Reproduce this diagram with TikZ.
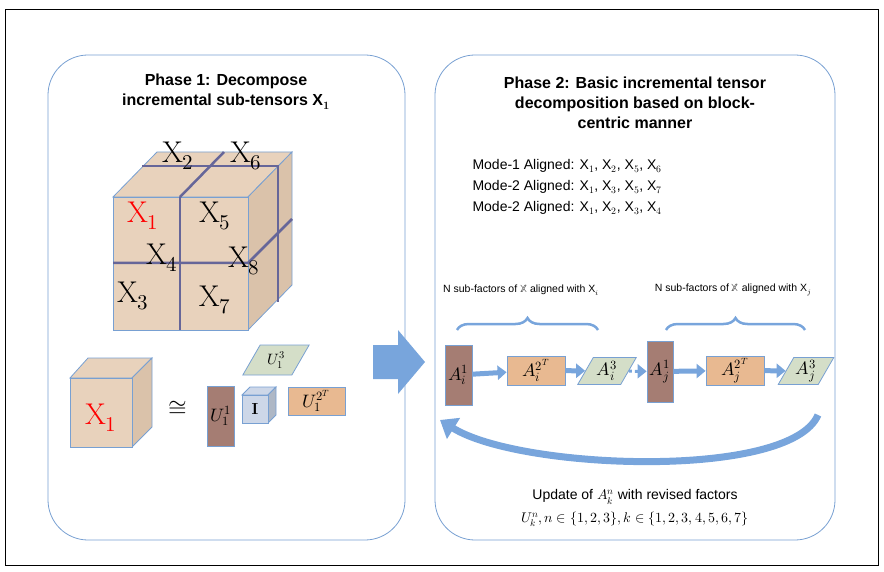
\documentclass[tikz,border=0pt]{standalone}
\usepackage{amsmath,amssymb}
\usepackage{unicode-math}
\setmainfont{Latin Modern Roman}
\setmathfont{Latin Modern Math}
\setsansfont{Liberation Sans}
\usetikzlibrary{positioning,arrows.meta,shapes.geometric,decorations.pathreplacing}
\definecolor{tanface}{RGB}{232,210,188}
\definecolor{tanside}{RGB}{218,194,170}
\definecolor{panelblue}{RGB}{120,160,210}
\definecolor{flowblue}{RGB}{120,165,220}
\definecolor{brownbox}{RGB}{165,125,115}
\definecolor{orangebox}{RGB}{232,185,145}
\definecolor{greenbox}{RGB}{212,222,200}
\definecolor{idbox}{RGB}{205,215,232}
\tikzset{
  panel/.style={draw=panelblue,rounded corners=40pt,line width=0.8pt},
  title/.style={font=\sffamily\bfseries\fontsize{16}{20}\selectfont,align=center},
  face/.style={draw=panelblue,line width=0.8pt},
  split/.style={draw=gray!80!blue,line width=2.5pt},
  sub/.style={font=\fontsize{30}{32}\selectfont},
  fbox/.style={draw=panelblue,line width=0.8pt,inner sep=0pt,font=\fontsize{18}{20}\selectfont},
  para/.style={trapezium,trapezium left angle=60,trapezium right angle=120,draw=panelblue,fill=greenbox,
    line width=0.8pt,inner sep=0pt,minimum height=27pt,font=\fontsize{18}{20}\selectfont},
  flow/.style={draw=flowblue,line width=5pt,-{Triangle[length=9pt,width=14pt]}},
  brace/.style={draw=flowblue,line width=2.5pt,decorate,decoration={brace,amplitude=12pt}},
  small/.style={font=\sffamily\fontsize{10.5}{12}\selectfont},
  plain/.style={font=\sffamily\fontsize{14}{16}\selectfont,anchor=west}
}
\begin{document}
\begin{tikzpicture}[x=1pt,y=-1pt]
  \useasboundingbox (0,0) rectangle (884,572);
  \draw[line width=0.8pt] (5,9) rectangle (878,565);
  % panels
  \draw[panel] (48,55) rectangle (405,540);
  \draw[panel] (435,55) rectangle (835,540);
  \node[title] (t1) at (226,92) {Phase 1: Decompose\\incremental sub-tensors X$_{\mathbf 1}$};
  \node[title] (t2) at (635,103) {Phase 2: Basic incremental tensor\\decomposition based on block-\\centric manner};

  % big cube
  \fill[tanface,face] (113,197) -- (157,152) -- (292,152) -- (248,197) -- cycle;
  \fill[tanside,face] (248,197) -- (292,152) -- (292,285) -- (248,330) -- cycle;
  \fill[tanface,face] (113,197) rectangle (248,330);
  \draw[split] (180,197) -- (180,330);
  \draw[split] (113,263) -- (248,263) -- (292,219);
  \draw[split] (180,197) -- (224,152);
  \draw[split] (142,166) -- (278,166) -- (278,302);
  \node[sub] (x2) at (178,156) {X$_2$};
  \node[sub] (x6) at (246,156) {X$_6$};
  \node[sub,red] (x1) at (143,216) {X$_1$};
  \node[sub] (x5) at (215,216) {X$_5$};
  \node[sub] (x4) at (162,258) {X$_4$};
  \node[sub] (x8) at (244,261) {X$_8$};
  \node[sub] (x3) at (133,296) {X$_3$};
  \node[sub] (x7) at (215,300) {X$_7$};

  % small cube
  \fill[tanface,face] (70,378) -- (88,358) -- (152,358) -- (132,378) -- cycle;
  \fill[tanside,face] (132,378) -- (152,358) -- (152,427) -- (132,447) -- cycle;
  \fill[tanface,face] (70,378) rectangle (132,447);
  \node[sub,red] (sx1) at (101,418) {X$_1$};
  \node[font=\fontsize{24}{26}\selectfont] (cong) at (178,408) {$\cong$};
  \node[fbox,fill=brownbox,minimum width=27pt,minimum height=60pt] (u11) at (220.5,416) {$U_1^1$};
  \fill[idbox,face] (242,395) -- (250,387) -- (276,387) -- (268,395) -- cycle;
  \fill[idbox!85!black,face] (268,395) -- (276,387) -- (276,415) -- (268,423) -- cycle;
  \fill[idbox,face] (242,395) rectangle (268,423);
  \node[font=\fontsize{16}{18}\selectfont] (id) at (255,409) {$\mathbf{I}$};
  \node[para,minimum height=30pt,minimum width=34pt,font=\fontsize{15}{16}\selectfont] (u13) at (276,360) {$U_1^3$};
  \node[fbox,fill=orangebox,minimum width=57pt,minimum height=28pt] (u12) at (316.5,401) {$U_1^{2^T}$};

  % transfer arrow
  \fill[flowblue] (373,345) -- (398,345) -- (398,330) -- (425,362) -- (398,394) -- (398,379) -- (373,379) -- cycle;

  % mode lines
  \node[plain] (m1) at (469,166) {Mode-1 Aligned: X$_1$, X$_2$, X$_5$, X$_6$};
  \node[plain] (m2) at (469,187) {Mode-2 Aligned: X$_1$, X$_3$, X$_5$, X$_7$};
  \node[plain] (m3) at (469,208) {Mode-2 Aligned: X$_1$, X$_2$, X$_3$, X$_4$};

  % sub-factor chain
  \node[small] (li) at (521,290) {N sub-factors of $\mathbb{X}$ aligned with X$_i$};
  \node[small] (lj) at (733,290) {N sub-factors of $\mathbb{X}$ aligned with X$_j$};
  \draw[brace] (457,330) -- (598,330);
  \draw[brace] (666,330) -- (805,330);
  \node[fbox,fill=brownbox,minimum width=27pt,minimum height=60pt] (ai1) at (458.5,375) {$A_i^1$};
  \node[fbox,fill=orangebox,minimum width=58pt,minimum height=29pt] (ai2) at (536,370.5) {$A_i^{2^T}$};
  \node[para,minimum width=30pt] (ai3) at (607,371) {$A_i^3$};
  \node[fbox,fill=brownbox,minimum width=26pt,minimum height=61pt] (aj1) at (660,371.5) {$A_j^1$};
  \node[fbox,fill=orangebox,minimum width=58pt,minimum height=29pt] (aj2) at (735,370.5) {$A_j^{2^T}$};
  \node[para,minimum width=30pt] (aj3) at (806,371) {$A_j^3$};
  \draw[flow] (ai1) -- (ai2);
  \draw[flow] (ai2) -- (ai3);
  \draw[flow,dashed,line width=3pt] (ai3) -- (aj1);
  \draw[flow] (aj1) -- (aj2);
  \draw[flow] (aj2) -- (aj3);

  % feedback arrow
  \coordinate (fbs) at (818,415);
  \coordinate (fbe) at (440,420);
  \draw[draw=flowblue,line width=7pt,-{Triangle[length=16pt,width=24pt]}]
    (fbs) .. controls (790,480) and (520,470) .. (fbe);

  \node[font=\sffamily\fontsize{14}{16}\selectfont] (upd) at (635,497) {Update of $A_k^n$ with revised factors};
  \node[font=\fontsize{14}{16}\selectfont] (upd2) at (635,519) {$U_k^n, n\in\{1,2,3\}, k\in\{1,2,3,4,5,6,7\}$};
\end{tikzpicture}
\end{document}
